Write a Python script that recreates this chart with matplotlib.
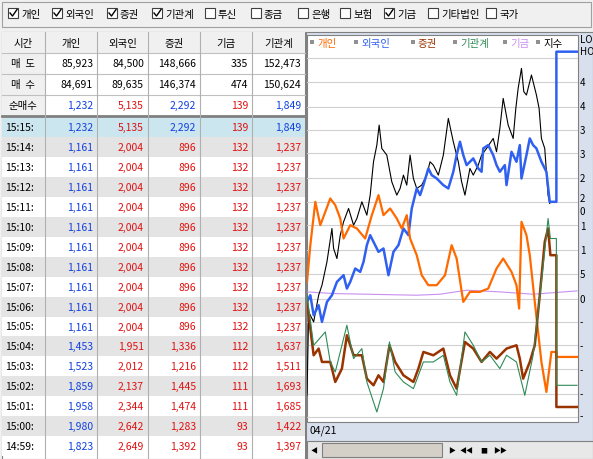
import matplotlib
matplotlib.use("Agg")
import matplotlib.pyplot as plt
from matplotlib.patches import Rectangle

plt.rcParams['font.family'] = ['Noto Sans CJK KR', 'DejaVu Sans']

checks = ["개인", "외국인", "증권", "기관계", "투신", "종금", "은행", "보험", "기금", "기타법인", "국가"]
checked = [True, True, True, True, False, False, False, False, True, False, False]
check_x = [8, 52, 107, 152, 205, 251, 298, 340, 384, 428, 486]

columns = ["시간", "개인", "외국인", "증권", "기금", "기관계"]
summary_labels = ["매  도", "매  수", "순매수"]
summary_rows = [
    [85923, 84500, 148666, 335, 152473],
    [84691, 89635, 146374, 474, 150624],
    [1232, 5135, 2292, 139, 1849],
]
times = ["15:15:", "15:14:", "15:13:", "15:12:", "15:11:", "15:10:", "15:09:", "15:08:",
         "15:07:", "15:06:", "15:05:", "15:04:", "15:03:", "15:02:", "15:01:", "15:00:", "14:59:"]
rows = [[1232, 5135, 2292, 139, 1849]] + [[1161, 2004, 896, 132, 1237]] * 10 + [
    [1453, 1951, 1336, 112, 1637],
    [1523, 2012, 1216, 112, 1511],
    [1859, 2137, 1445, 111, 1693],
    [1958, 2344, 1474, 111, 1685],
    [1980, 2642, 1283, 93, 1422],
    [1823, 2649, 1392, 93, 1397],
]

# chart series (x = time position, y = level, larger = lower)
idx_x = [20, 25, 40, 55, 65, 80, 95, 100, 110, 120, 130, 145, 160, 170, 185, 200, 210, 220, 230, 237, 245, 260, 275, 290, 300, 310, 320, 330, 340, 350, 365, 380, 390, 400, 415, 430, 445, 460, 475, 485, 495, 510, 520, 535, 545, 560, 580, 590, 600, 610, 625, 640, 648, 655, 665, 672, 680, 695, 710, 718, 725, 735, 745, 750]
idx_y = [1100, 850, 880, 800, 770, 700, 600, 660, 690, 620, 580, 540, 590, 570, 520, 560, 500, 400, 350, 290, 360, 380, 460, 500, 480, 440, 470, 380, 450, 480, 470, 440, 400, 410, 440, 380, 270, 340, 400, 460, 500, 420, 440, 410, 380, 360, 330, 370, 300, 210, 290, 330, 240, 180, 120, 190, 200, 140, 200, 240, 330, 360, 500, 525]
for_x = [20, 30, 40, 55, 65, 80, 95, 110, 130, 140, 150, 165, 180, 190, 200, 210, 220, 235, 250, 265, 280, 295, 310, 325, 335, 350, 360, 370, 385, 395, 410, 420, 430, 445, 460, 470, 480, 490, 500, 510, 520, 535, 545, 550, 565, 580, 590, 600, 615, 620, 635, 650, 660, 665, 680, 690, 700, 710, 725, 735, 740, 750, 770, 770, 832]
for_y = [820, 800, 860, 830, 880, 820, 800, 760, 740, 780, 760, 720, 730, 700, 650, 620, 640, 670, 660, 740, 670, 650, 600, 620, 540, 480, 500, 470, 420, 440, 450, 460, 470, 480, 430, 380, 340, 380, 410, 400, 390, 420, 430, 360, 350, 380, 410, 430, 410, 470, 370, 400, 350, 450, 380, 330, 350, 360, 400, 420, 430, 520, 520, 70, 70]
ind_x = [20, 30, 45, 60, 75, 90, 105, 120, 130, 150, 170, 195, 215, 235, 250, 270, 290, 305, 320, 330, 350, 365, 385, 410, 435, 455, 470, 490, 510, 540, 565, 590, 610, 635, 650, 658, 665, 680, 690, 705, 725, 740, 755, 770, 770, 832]
ind_y = [760, 650, 520, 590, 550, 510, 530, 570, 630, 590, 600, 630, 560, 500, 560, 540, 570, 600, 560, 630, 680, 740, 770, 770, 740, 650, 690, 820, 790, 790, 780, 720, 690, 730, 770, 840, 580, 620, 680, 820, 1000, 1090, 970, 970, 985, 985]
sec_x = [20, 40, 55, 65, 90, 105, 125, 140, 160, 185, 200, 220, 235, 250, 268, 285, 310, 340, 355, 370, 400, 430, 450, 470, 495, 520, 545, 570, 590, 620, 650, 660, 670, 690, 705, 720, 735, 745, 752, 770, 770, 832]
sec_y = [820, 980, 960, 1000, 1000, 1060, 1020, 920, 980, 980, 1050, 1070, 1040, 1060, 950, 1000, 1040, 1060, 1020, 970, 980, 960, 1040, 1080, 940, 960, 1000, 970, 990, 960, 950, 990, 1050, 1000, 950, 800, 640, 600, 680, 680, 1135, 1135]
ins_x = [20, 40, 75, 90, 105, 140, 160, 185, 200, 230, 250, 268, 285, 310, 340, 370, 400, 430, 450, 470, 495, 520, 545, 570, 600, 620, 650, 675, 700, 725, 745, 752, 770, 770, 832]
ins_y = [800, 950, 910, 1000, 1030, 890, 990, 960, 1060, 1150, 1080, 940, 1030, 1060, 1080, 1000, 1000, 980, 1060, 1100, 910, 950, 1000, 980, 1020, 980, 1000, 1100, 980, 760, 570, 630, 630, 1070, 1070]
fund_x = [20, 100, 200, 350, 420, 500, 600, 700, 832]
fund_y = [790, 795, 797, 800, 797, 785, 790, 797, 787]

fig = plt.figure(figsize=(5.93, 4.60), dpi=100)
bg = fig.add_axes([0, 0, 1, 1])
bg.set_xlim(0, 593); bg.set_ylim(460, 0); bg.axis('off')
bg.add_patch(Rectangle((0, 0), 593, 460, color='#f0f0f0'))
bg.add_patch(Rectangle((2, 3), 589, 25, facecolor='#f0f0f0', edgecolor='#a0a0a0', lw=0.8))
for x, lab, c in zip(check_x, checks, checked):
    bg.add_patch(Rectangle((x, 9), 10, 10, facecolor='white', edgecolor='#404040', lw=0.8))
    if c:
        bg.plot([x + 2, x + 4.5, x + 9], [14, 17, 10.5], color='black', lw=1)
    bg.text(x + 13, 15, lab, fontsize=7.5, va='center', ha='left')

col_edges = [2, 45, 97, 148, 200, 252, 305]
bg.add_patch(Rectangle((2, 33), 303, 427, facecolor='white', edgecolor='#808080', lw=0.8))
bg.add_patch(Rectangle((2, 33), 303, 21, facecolor='#f0f0f0', edgecolor='none'))
for i, c in enumerate(columns):
    bg.text((col_edges[i] + col_edges[i + 1]) / 2, 44, c, fontsize=7.5, ha='center', va='center')
blue, red = '#1040e0', '#e01010'
def fmt(v):
    return f"{v:,}"
sy = [64, 85, 106]
for r, (lab, vals) in enumerate(zip(summary_labels, summary_rows)):
    bg.add_patch(Rectangle((2, sy[r] - 10.5), 43, 21, facecolor='#f0f0f0', edgecolor='none'))
    bg.text(23, sy[r], lab, fontsize=7.5, ha='center', va='center')
    for j, v in enumerate(vals):
        col = 'black'
        if r == 2:
            col = [blue, red, blue, red, blue][j]
        bg.text(col_edges[j + 2] - 4, sy[r], fmt(v), fontsize=7.5, ha='right', va='center', color=col)
bg.plot([2, 305], [117, 117], color='#808080', lw=2)
y0, h = 128, 19.95
for i, (t, vals) in enumerate(zip(times, rows)):
    y = y0 + i * h
    fc = '#cce6f0' if i == 0 else ('#e4e4e4' if i % 2 == 1 else 'white')
    bg.add_patch(Rectangle((2, y - h / 2), 303, h, facecolor=fc, edgecolor='none'))
    bg.text(5, y, t, fontsize=7.5, ha='left', va='center')
    cols = [blue, red, blue, red, blue] if i == 0 else [blue, red, red, red, red]
    for j, v in enumerate(vals):
        bg.text(col_edges[j + 2] - 4, y, fmt(v), fontsize=7.5, ha='right', va='center', color=cols[j])
for y in [54, 75, 96]:
    bg.plot([2, 305], [y, y], color='#c0c0c0', lw=0.8)
for x in col_edges[1:-1]:
    bg.plot([x, x], [33, 460], color='#b0b0b0', lw=0.8)

bg.add_patch(Rectangle((306, 33), 287, 427, facecolor='#d8e0ee', edgecolor='#808080', lw=0.8))
bg.add_patch(Rectangle((307, 36), 271, 387, facecolor='white', edgecolor='#808080', lw=0.8))
bg.text(310, 431, "04/21", fontsize=7.5, va='center')
bg.add_patch(Rectangle((307, 442), 286, 18, facecolor='#e8e8e8', edgecolor='#808080', lw=0.8))
bg.add_patch(Rectangle((322, 444), 120, 14, facecolor='#d4d0c8', edgecolor='#808080', lw=0.8))
for k, s in enumerate(["◀", "▶", "◀◀", "■", "▶▶"]):
    bg.text([314, 452, 467, 484, 500][k], 451, s, fontsize=5, ha='center', va='center')
labels = ["LO", "HO", "4", "4", "3", "3", "2", "2", "0", "1", "1", "5", "0", "-", "-", "-", "-", "-"]
ly = [40, 52, 83, 107, 131, 155, 179, 199, 212, 227, 251, 275, 300, 323, 347, 371, 395, 417]
for s, yy in zip(labels, ly):
    bg.text(580, yy, s, fontsize=7, va='center', ha='left')

ax = fig.add_axes([307 / 593, 1 - 423 / 460, 271 / 593, 387 / 460])
ax.set_xlim(20, 835)
ax.set_ylim(1180, 20)
for g in [90, 160, 235, 305, 375, 450, 520, 590, 665, 735, 810, 880, 950, 1020, 1095, 1165]:
    ax.axhline(g, color='#d0d0d0', lw=0.8, zorder=0)
ax.set_xticks([]); ax.set_yticks([])
for s in ax.spines.values():
    s.set_visible(False)
ax.patch.set_alpha(0)
ax.plot(fund_x, fund_y, color='#c890f0', lw=0.8)
ax.plot(idx_x, idx_y, color='black', lw=0.8)
ax.plot(for_x, for_y, color='#3060f0', lw=1.8)
ax.plot(ind_x, ind_y, color='#ff6a00', lw=1.6)
ax.plot(sec_x, sec_y, color='#993300', lw=1.8)
ax.plot(ins_x, ins_y, color='#2e8b57', lw=0.8)

legend = [("개인", '#ff6a00'), ("외국인", '#3060f0'), ("증권", '#993300'), ("기관계", '#2e8b57'), ("기금", '#c890f0'), ("지수", 'black')]
lx = [310, 354, 411, 453, 503, 536]
for (t, c), x in zip(legend, lx):
    bg.add_patch(Rectangle((x, 41), 4, 4, facecolor='#909090'))
    bg.text(x + 7, 44, t, color=c, fontsize=7.5, va='center')

fig.savefig("out.png", dpi=100)
